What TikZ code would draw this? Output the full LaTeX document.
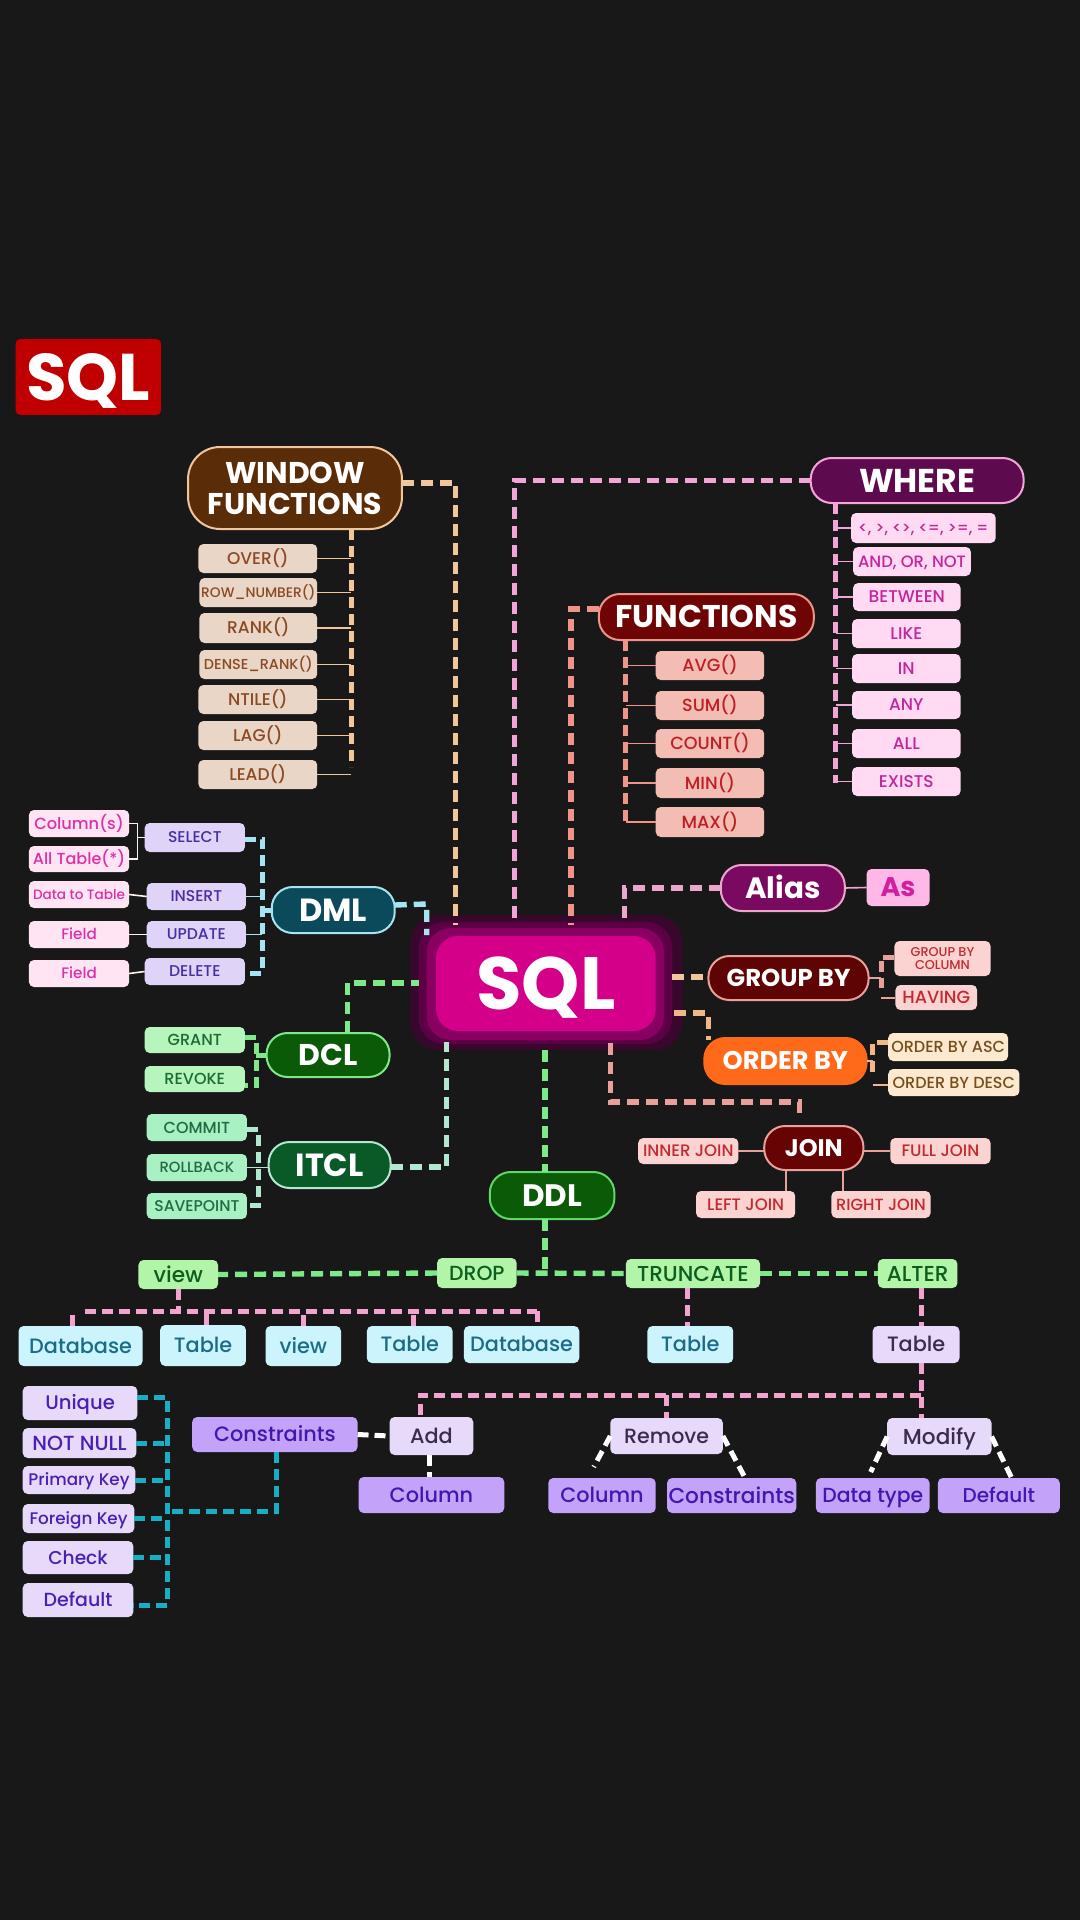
\documentclass[tikz,border=0pt]{standalone}
\usepackage{fontspec}
\setmainfont{Poppins Medium}[BoldFont={Poppins Bold}]
\definecolor{bgc}{HTML}{181818}
\tikzset{
 box/.style={rounded corners=2.5pt,outer sep=0pt,inner sep=0pt,align=center},
 pill/.style={box,rounded corners=10.5pt,line width=1pt,text=white,execute at begin node={\bfseries}},
 dsh/.style={line width=2.7pt,dash pattern=on 6pt off 3.5pt},
 dss/.style={line width=2.5pt,dash pattern=on 5.5pt off 3pt},
 thn/.style={line width=0.8pt},
 twoline/.style={text height=,text depth=},
 cwf/.style={box,fill=E9D6C6,text=8A4A22},
 cwh/.style={box,fill=FFDAF2,text=C2259C},
 cfn/.style={box,fill=F3BDB3,text=BE1E24},
 cgb/.style={box,fill=FBD3D0,text=C12A30},
 cob/.style={box,fill=FDE9D0,text=75501C},
 cdm/.style={box,fill=DFD3F8,text=4B2CA3},
 cpk/.style={box,fill=FFE4F4,text=DB30A8},
 cdc/.style={box,fill=B6F5BC,text=1B6B34},
 ctc/.style={box,fill=A9F0C2,text=1F6B44},
 cdd/.style={box,fill=B3F5A8,text=0D5E1E},
 ccy/.style={box,fill=CBF4FC,text=1B6C86},
 cli/.style={box,fill=E6D9FA,text=3A2C4C},
 cco/.style={box,fill=E6D9FA,text=4A20B2},
 cpu/.style={box,fill=C3A2FA,text=4316B0},
}
\definecolor{E9D6C6}{HTML}{E9D6C6}\definecolor{8A4A22}{HTML}{8A4A22}
\definecolor{FFDAF2}{HTML}{FFDAF2}\definecolor{C2259C}{HTML}{C2259C}
\definecolor{F3BDB3}{HTML}{F3BDB3}\definecolor{BE1E24}{HTML}{BE1E24}
\definecolor{FBD3D0}{HTML}{FBD3D0}\definecolor{C12A30}{HTML}{C12A30}
\definecolor{FDE9D0}{HTML}{FDE9D0}\definecolor{75501C}{HTML}{75501C}
\definecolor{DFD3F8}{HTML}{DFD3F8}\definecolor{4B2CA3}{HTML}{4B2CA3}
\definecolor{FFE4F4}{HTML}{FFE4F4}\definecolor{DB30A8}{HTML}{DB30A8}
\definecolor{B6F5BC}{HTML}{B6F5BC}\definecolor{1B6B34}{HTML}{1B6B34}
\definecolor{A9F0C2}{HTML}{A9F0C2}\definecolor{1F6B44}{HTML}{1F6B44}
\definecolor{B3F5A8}{HTML}{B3F5A8}\definecolor{0D5E1E}{HTML}{0D5E1E}
\definecolor{CBF4FC}{HTML}{CBF4FC}\definecolor{1B6C86}{HTML}{1B6C86}
\definecolor{E6D9FA}{HTML}{E6D9FA}\definecolor{3A2C4C}{HTML}{3A2C4C}
\definecolor{4A20B2}{HTML}{4A20B2}
\definecolor{C3A2FA}{HTML}{C3A2FA}\definecolor{4316B0}{HTML}{4316B0}
\definecolor{lwf}{HTML}{F0C79A}\definecolor{lwh}{HTML}{F2A6D8}
\definecolor{lfn}{HTML}{EE9488}\definecolor{lal}{HTML}{EBA6CC}
\definecolor{ljn}{HTML}{E8A09A}\definecolor{lcy}{HTML}{A5E4F0}
\definecolor{lgr}{HTML}{7FE88A}\definecolor{lmt}{HTML}{B2E8D0}
\definecolor{lpk}{HTML}{F2A4CE}\definecolor{lte}{HTML}{18AFC4}
\definecolor{lor}{HTML}{F0B888}
\definecolor{redbox}{HTML}{C00000}
\definecolor{sqlg0}{HTML}{D4008A}\definecolor{sqlg1}{HTML}{8A0062}
\definecolor{sqlg2}{HTML}{5C0046}\definecolor{sqlg3}{HTML}{38082C}
\definecolor{asfill}{HTML}{FFB8E8}\definecolor{astext}{HTML}{D020A0}
\definecolor{h5A2C08}{HTML}{5A2C08}\definecolor{h5E0A4E}{HTML}{5E0A4E}
\definecolor{h6E0404}{HTML}{6E0404}\definecolor{h7A0A60}{HTML}{7A0A60}
\definecolor{h5E0404}{HTML}{5E0404}\definecolor{hFF6A1A}{HTML}{FF6A1A}
\definecolor{h660404}{HTML}{660404}\definecolor{h0A4A5A}{HTML}{0A4A5A}
\definecolor{h0A5A08}{HTML}{0A5A08}\definecolor{h0A5A28}{HTML}{0A5A28}
\definecolor{h5FD868}{HTML}{5FD868}
\newcommand{\mapx}[2]{\pgfmathsetmacro#1{(#2<540)?(#2*1.03333):(540+(#2-540)*1.03333)}}
\newcommand{\bx}[8]{%
 \mapx\xa{#3}\mapx\xb{#5}%
 \pgfmathsetmacro\cxx{(\xa+\xb)/2}\pgfmathsetmacro\cyy{(#4+#6)/2}%
 \pgfmathsetmacro\www{(\xb-\xa)*0.5}\pgfmathsetmacro\hhh{(#6-#4)*0.5}%
 \pgfmathsetmacro\tth{#7*0.7}%
 \node[text height=\tth pt,text depth=0pt,#1,minimum width=\www pt,minimum height=\hhh pt,
   font=\fontsize{#7pt}{\dimexpr#7pt*11/10\relax}\selectfont] (#2) at (\cxx,\cyy) {#8};}
\newcommand{\cpt}[3]{\mapx\xa{#2}\coordinate (#1) at (\xa,#3);}
\begin{document}
\begin{tikzpicture}[x=0.5pt,y=-0.5pt]
\useasboundingbox (0,0) rectangle (1080,1920);
\fill[bgc] (0,0) rectangle (1080,1920);

% title
\bx{box,fill=redbox,text=white,execute at begin node={\bfseries}}{title}{15}{339}{156}{415}{33}{SQL}

% central
\bx{box,rounded corners=14pt,fill=sqlg3}{sqlc}{397}{915}{678}{1050}{1}{}
\bx{box,rounded corners=13pt,fill=sqlg2}{sqlb}{405}{922}{668}{1044}{1}{}
\bx{box,rounded corners=12pt,fill=sqlg1}{sqla}{413}{928}{660}{1040}{1}{}
\bx{box,rounded corners=11pt,fill=sqlg0,text=white,execute at begin node={\bfseries}}{sql}{422}{936}{652}{1031}{37}{SQL}

% heads
\bx{pill,twoline,rounded corners=16pt,fill=h5A2C08,draw=lwf,text=white}{wf}{182}{447}{389}{529}{15}{WINDOW\\[-1pt]FUNCTIONS}
\bx{pill,fill=h5E0A4E,draw=lwh}{where}{802}{458}{1008}{503}{16.5}{WHERE}
\bx{pill,fill=h6E0404,draw=lfn}{func}{597}{594}{805}{640}{15.7}{FUNCTIONS}
\bx{pill,fill=h7A0A60,draw=lal}{alias}{715}{865}{835}{911}{14.7}{Alias}
\bx{pill,fill=h5E0404,draw=ljn}{gby}{703}{956}{858}{1000}{12.2}{GROUP BY}
\bx{pill,fill=hFF6A1A,draw=hFF6A1A}{oby}{699}{1038}{856}{1084}{12.8}{ORDER BY}
\bx{pill,fill=h660404,draw=ljn}{join}{757}{1126}{853}{1170}{12}{JOIN}
\bx{pill,fill=h0A4A5A,draw=lcy}{dml}{263}{887}{382}{933}{16}{DML}
\bx{pill,fill=h0A5A08,draw=lgr}{dcl}{258}{1033}{377}{1077}{15}{DCL}
\bx{pill,fill=h0A5A28,draw=lmt}{tcl}{260}{1142}{378}{1188}{16}{ITCL}
\bx{pill,fill=h0A5A08,draw=h5FD868}{ddl}{474}{1172}{612}{1219}{15.5}{DDL}

% window functions list
\bx{cwf}{over}{192}{544}{307}{573}{8.5}{OVER()}
\bx{cwf}{rown}{193}{578}{307}{607}{6.9}{ROW\_NUMBER()}
\bx{cwf}{rank}{193}{613}{307}{643}{8.5}{RANK()}
\bx{cwf}{dense}{193}{650}{307}{679}{7.2}{DENSE\_RANK()}
\bx{cwf}{ntile}{192}{685}{307}{714}{8.5}{NTILE()}
\bx{cwf}{lag}{192}{721}{307}{750}{8.5}{LAG()}
\bx{cwf}{lead}{192}{760}{307}{789}{8.5}{LEAD()}

% where list
\bx{cwh}{w1}{841}{513}{981}{543}{7.8}{<, >, <>, <=, >=, =}
\bx{cwh}{w2}{843}{547}{957}{576}{8.2}{AND, OR, NOT}
\bx{cwh}{w3}{843}{583}{947}{611}{8.5}{BETWEEN}
\bx{cwh}{w4}{842}{619}{947}{648}{8.5}{LIKE}
\bx{cwh}{w5}{842}{654}{947}{683}{8.5}{IN}
\bx{cwh}{w6}{842}{691}{947}{719}{8.5}{ANY}
\bx{cwh}{w7}{842}{729}{947}{758}{8.5}{ALL}
\bx{cwh}{w8}{842}{767}{947}{796}{8.5}{EXISTS}

% functions list
\bx{cfn}{f1}{652}{651}{757}{680}{8.8}{AVG()}
\bx{cfn}{f2}{652}{691}{757}{720}{8.8}{SUM()}
\bx{cfn}{f3}{652}{729}{757}{758}{8.8}{COUNT()}
\bx{cfn}{f4}{652}{768}{757}{798}{8.8}{MIN()}
\bx{cfn}{f5}{652}{807}{757}{837}{8.8}{MAX()}

\bx{box,fill=asfill,text=astext,execute at begin node={\bfseries}}{as}{856}{869}{917}{906}{13.5}{As}

% group / order / join
\bx{cgb,twoline}{gb1}{883}{941}{976}{976}{6.4}{GROUP BY\\[-1pt]COLUMN}
\bx{cgb}{gb2}{884}{985}{963}{1010}{8.8}{HAVING}
\bx{cob}{ob1}{877}{1033}{993}{1061}{8}{ORDER BY ASC}
\bx{cob}{ob2}{877}{1069}{1004}{1096}{8}{ORDER BY DESC}
\bx{cgb}{j1}{635}{1138}{732}{1164}{8.3}{INNER JOIN}
\bx{cgb}{j2}{879}{1138}{976}{1164}{8.3}{FULL JOIN}
\bx{cgb}{j3}{691}{1191}{787}{1218}{8.3}{LEFT JOIN}
\bx{cgb}{j4}{822}{1191}{918}{1218}{8.1}{RIGHT JOIN}

% DML
\bx{cpk}{col}{28}{810}{125}{837}{8.1}{Column(s)}
\bx{cpk}{allt}{28}{846}{125}{872}{8}{All Table(*)}
\bx{cpk}{dtt}{28}{881}{125}{908}{6.8}{Data to Table}
\bx{cpk}{fld1}{28}{921}{125}{948}{7.6}{Field}
\bx{cpk}{fld2}{28}{960}{125}{987}{7.6}{Field}
\bx{cdm}{sel}{140}{823}{237}{852}{7.8}{SELECT}
\bx{cdm}{ins}{142}{883}{238}{910}{7.8}{INSERT}
\bx{cdm}{upd}{142}{921}{238}{948}{7.8}{UPDATE}
\bx{cdm}{del}{140}{958}{237}{985}{7.8}{DELETE}

% DCL / TCL
\bx{cdc}{grant}{140}{1027}{237}{1053}{8}{GRANT}
\bx{cdc}{revoke}{140}{1066}{237}{1092}{8}{REVOKE}
\bx{ctc}{commit}{142}{1114}{239}{1141}{8}{COMMIT}
\bx{ctc}{roll}{142}{1154}{239}{1181}{7.4}{ROLLBACK}
\bx{ctc}{save}{142}{1193}{239}{1219}{7.8}{SAVEPOINT}

% DDL row
\bx{cdd}{view}{134}{1260}{211}{1289}{10.8}{view}
\bx{cdd}{drop}{423}{1258}{500}{1288}{10.2}{DROP}
\bx{cdd}{trunc}{623}{1259}{753}{1288}{10.8}{TRUNCATE}
\bx{cdd}{alter}{867}{1259}{944}{1288}{10.8}{ALTER}

\bx{ccy}{db1}{18}{1326}{138}{1366}{10.4}{Database}
\bx{ccy}{tb1}{155}{1325}{238}{1366}{10.4}{Table}
\bx{ccy}{vw1}{257}{1326}{330}{1366}{10.4}{view}
\bx{ccy}{tb2}{355}{1326}{438}{1363}{10.4}{Table}
\bx{ccy}{db2}{449}{1326}{578}{1363}{10.4}{Database}
\bx{ccy}{tb3}{644}{1326}{727}{1363}{10.4}{Table}
\bx{cli}{tb4}{862}{1326}{946}{1363}{10.4}{Table}

% constraints
\bx{cco}{un}{22}{1386}{133}{1420}{9.8}{Unique}
\bx{cco}{nn}{22}{1428}{132}{1458}{10.2}{NOT NULL}
\bx{cco}{pk}{22}{1466}{131}{1494}{8.4}{Primary Key}
\bx{cco}{fk}{22}{1504}{130}{1533}{8.4}{Foreign Key}
\bx{cco}{chk}{22}{1541}{129}{1574}{9.3}{Check}
\bx{cco}{dft}{22}{1583}{129}{1617}{9.5}{Default}
\bx{cpu}{cons}{186}{1417}{346}{1452}{10.4}{Constraints}
\bx{cli}{add}{377}{1417}{458}{1455}{10.4}{Add}
\bx{cpu}{acol}{347}{1477}{488}{1513}{10.4}{Column}
\bx{cli}{rem}{608}{1418}{717}{1454}{10.3}{Remove}
\bx{cli}{mod}{876}{1418}{977}{1455}{10.8}{Modify}
\bx{cpu}{rcol}{548}{1478}{652}{1513}{10.4}{Column}
\bx{cpu}{rcon}{663}{1478}{788}{1513}{10.8}{Constraints}
\bx{cpu}{mdt}{807}{1478}{917}{1513}{10.2}{Data type}
\bx{cpu}{mdf}{925}{1478}{1043}{1513}{10}{Default}

% junction coordinates
\cpt{wfbar}{340}{529}   \cpt{wfend}{340}{767}
\cpt{whbar}{826}{503}   \cpt{whend}{826}{783}
\cpt{fnbar}{623}{640}   \cpt{fnend}{623}{822}
\cpt{swf}{441}{925}     \cpt{swh}{498}{923}
\cpt{sfn}{570}{925}     \cpt{sal}{622}{920}
\cpt{sgb}{668}{977}     \cpt{sob}{670}{1013}
\cpt{obin}{703}{1040}   \cpt{sjn}{608}{1043}
\cpt{jnrow}{608}{1102}  \cpt{jnin}{791}{1115}
\cpt{jnt}{791}{1102}
\cpt{sdm}{413}{935}     \cpt{dmt}{413}{904}
\cpt{sdc}{405}{983}     \cpt{stc}{432}{1042}
\cpt{sdd}{545}{1050}    \cpt{ddt}{545}{1172}
\cpt{ddb}{545}{1219}    \cpt{ddj}{545}{1274}
\cpt{dmbar}{254}{839}   \cpt{dmend}{254}{973}
\cpt{gbar}{248}{1037}   \cpt{gend}{248}{1085}
\cpt{cbar}{250}{1129}   \cpt{cend}{250}{1205}
\cpt{brk}{133}{825}     \cpt{brkb}{133}{861}
\cpt{gbbar}{870}{957}   \cpt{gbend}{870}{988}
\cpt{gbtl}{870}{998}
\cpt{obbar}{862}{1042}  \cpt{obend}{862}{1075}
\cpt{obtl}{862}{1085}
\cpt{vrow}{172}{1311}   \cpt{vl}{82}{1311}
\cpt{vr}{520}{1311}     \cpt{altrow}{909}{1395}
\cpt{addc}{407}{1395}   \cpt{addt}{407}{1417}
\cpt{remt}{662}{1395}
\cpt{tbar}{162}{1397}   \cpt{tend}{162}{1605}
\cpt{tjoin}{162}{1511}  \cpt{tcor}{268}{1511}
\cpt{dcla}{336}{1033}   \cpt{t1t}{200}{1325}
\cpt{t2t}{400}{1326}    \cpt{dbt}{70}{1326}
\cpt{trb}{683}{1288}    \cpt{ab}{416}{1477}
\cpt{jl}{778}{1170}     \cpt{jr}{833}{1170}
\cpt{rl}{592}{1467}     \cpt{rr}{738}{1477}
\cpt{ml}{860}{1472}     \cpt{mr}{996}{1477}

% top level connectors
\draw[dsh,lwf] ([yshift=2.5pt]wf.east) -| (swf);
\draw[dsh,lwh] (where.west) -- (where.west -| swh) -- (swh);
\draw[dsh,lfn] ([yshift=4pt]func.west) -- ([yshift=4pt]func.west -| sfn) -- (sfn);
\draw[dsh,lal] (alias.west) -- (alias.west -| sal) -- (sal);
\draw[dsh,lwf] (sgb) -- (sgb -| gby.west);
\draw[dsh,lor] (sob) -- (sob -| obin) -- (obin);
\draw[dsh,ljn] (sjn) -- (jnrow) -- (jnt) -- (jnin);
\draw[dsh,lcy] ([yshift=2.5pt]dml.east) -- (dmt) -- (sdm);
\draw[dsh,lgr] (dcla) -- (dcla |- sdc) -- (sdc);
\draw[dsh,lmt] ([yshift=-1pt]tcl.east) -- ([yshift=-1pt]tcl.east -| stc) -- (stc);
\draw[dsh,lgr] (sdd) -- (ddt);
\draw[dsh,lgr] (ddb) -- (ddj);

% window list
\draw[dss,lwf] (wfbar) -- (wfend);
\foreach \n in {over,rown,rank,dense,ntile,lag,lead} \draw[thn,lwf] (\n.east) -- (\n.east -| wfbar);
% where list
\draw[dss,lwh] (whbar) -- (whend);
\foreach \n in {w1,w2,w3,w4,w5,w6,w7,w8} \draw[thn,lwh] (\n.west) -- (\n.west -| whbar);
% functions list
\draw[dss,lfn] (fnbar) -- (fnend);
\foreach \n in {f1,f2,f3,f4,f5} \draw[thn,lfn] (\n.west) -- (\n.west -| fnbar);
\draw[thn,lal] (alias.east) -- (as.west);

% group by / order by
\draw[dss,ljn] (gb1.west |- gbbar) -- (gbbar) -- (gbend);
\draw[thn,ljn] (gby.east) -- (gby.east -| gbbar);
\draw[thn,ljn] (gbtl) -- (gbtl -| gb2.west);
\draw[dss,lor] (ob1.west |- obbar) -- (obbar) -- (obend);
\draw[thn,lor] (oby.east) -- (oby.east -| obbar);
\draw[thn,lor] (obtl) -- (obtl -| ob2.west);
% join
\draw[thn,ljn] (j1.east) -- (j1.east -| join.west);
\draw[thn,ljn] (join.east |- j2.west) -- (j2.west);
\draw[thn,ljn] (jl) -- (jl |- j3.north);
\draw[thn,ljn] (jr) -- (jr |- j4.north);

% DML
\draw[dss,lcy] (sel.east |- dmbar) -- (dmbar) -- (dmend) -- (del.east |- dmend);
\draw[thn,lcy] (ins.east) -- (ins.east -| dmbar);
\draw[thn,lcy] (upd.east) -- (upd.east -| dmbar);
\draw[dss,lcy] (dml.west) -- (dml.west -| dmbar);
\draw[thn,white!80!lwf] (col.east) -- (col.east -| brk) -- (allt.east -| brk) -- (allt.east);
\draw[thn,white!80!lwf] (sel.west) -- (sel.west -| brk);
\draw[thn,white!80!lwf] (dtt.east) -- (ins.west);
\draw[thn,white!80!lwf] (fld1.east) -- (upd.west);
\draw[thn,white!80!lwf] (fld2.east) -- (del.west);
% DCL
\draw[dss,lgr] (grant.east |- gbar) -- (gbar) -- (gend) -- (revoke.east |- gend);
\draw[dss,lgr] (dcl.west) -- (dcl.west -| gbar);
% TCL
\draw[dss,lmt] (commit.east |- cbar) -- (cbar) -- (cend) -- (save.east |- cend);
\draw[thn,lmt] (roll.east) -- (tcl.west |- roll.east);

% DDL row
\draw[dsh,lgr] (drop.east) -- (trunc.west);
\draw[dsh,lgr] (trunc.east) -- (alter.west);
\draw[dsh,lgr] (drop.west) -- (view.east);
% pink
\draw[dss,lpk] (view.south) -- (view.south |- vrow);
\draw[dss,lpk] (vl) -- (vr);
\draw[dss,lpk] (dbt) -- (dbt |- vrow);
\draw[dss,lpk] (t1t) -- (t1t |- vrow);
\draw[dss,lpk] (vw1.north) -- (vw1.north |- vrow);
\draw[dss,lpk] (t2t) -- (t2t |- vrow);
\draw[dss,lpk] (vr) -- (vr |- db2.north);
\draw[dss,lpk] (trb) -- (trb |- tb3.north);
\draw[dss,lpk] (alter.south -| altrow) -- (tb4.north -| altrow);
\draw[dss,lpk] (tb4.south -| altrow) -- (mod.north -| altrow);
\draw[dss,lpk] (altrow) -- (addc) -- (addt);
\draw[dss,lpk] (remt) -- (remt |- rem.north);
% teal
\draw[dss,lte] (un.east |- tbar) -- (tbar) -- (tend) -- (dft.east |- tend);
\draw[dss,lte] (nn.east) -- (nn.east -| tbar);
\draw[dss,lte] (pk.east) -- (pk.east -| tbar);
\draw[dss,lte] (fk.east) -- (fk.east -| tbar);
\draw[dss,lte] (chk.east) -- (chk.east -| tbar);
\draw[dss,lte] (cons.south -| tcor) -- (tcor) -- (tjoin);
% white
\draw[dss,white] (cons.east) -- (add.west);
\draw[dss,white] (ab |- add.south) -- (ab);
\draw[dss,white] (rem.west) -- (rl);
\draw[dss,white] (rem.east) -- (rr);
\draw[dss,white] (mod.west) -- (ml);
\draw[dss,white] (mod.east) -- (mr);
\end{tikzpicture}
\end{document}
